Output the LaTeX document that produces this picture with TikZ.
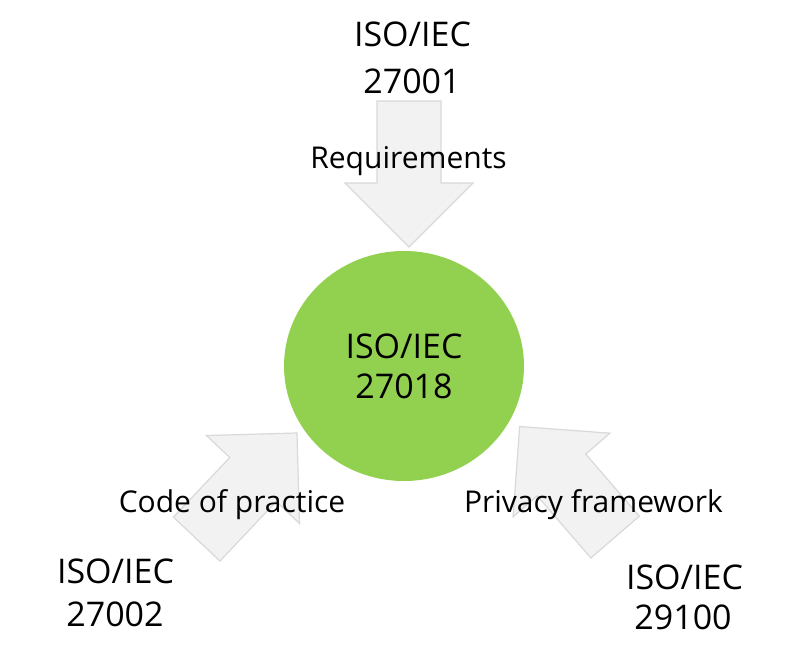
\documentclass[tikz,border=0pt]{standalone}
\usepackage{fontspec}
\setmainfont{Open Sans}
\usetikzlibrary{shapes.geometric}
\definecolor{arrowfill}{HTML}{F2F2F2}
\definecolor{arrowline}{HTML}{D9D9D9}
\definecolor{hubgreen}{HTML}{92D050}
\tikzset{
  arrowbody/.style={fill=arrowfill, draw=arrowline, line width=1.2pt, line join=miter},
  blockarrow/.pic={\draw[arrowbody] (-82,-32) -- (0,-32) -- (0,-64) -- (64,0) -- (0,64) -- (0,32) -- (-82,32) -- cycle;},
  isotext/.style={font=\fontsize{34}{40}\selectfont, anchor=base, inner sep=0pt, text=black},
  labeltext/.style={font=\fontsize{30}{36}\selectfont, anchor=base, inner sep=0pt, text=black},
  hub/.style={ellipse, fill=hubgreen, draw=none, minimum width=240pt, minimum height=230pt, inner sep=0pt},
}
\begin{document}
\begin{tikzpicture}[x=1pt,y=1pt]
\useasboundingbox (0,0) rectangle (800,658);
\fill[white] (0,0) rectangle (800,658);
% block arrows
\path (409,475) pic[rotate=-90] {blockarrow};
\path (253,178.5) pic[rotate=46.6] {blockarrow};
\path (561.5,183) pic[rotate=130.8] {blockarrow};
% hub
\node[hub] (hub) at (404,292) {};
\node[isotext] (hubA) at (404,299.7) {ISO/IEC};
\node[isotext] (hubB) at (404,259.7) {27018};
% top source
\node[isotext] (topA) at (412.5,611.3) {ISO/IEC};
\node[isotext] (topB) at (412,564.7) {27001};
\node[labeltext] (topL) at (408.5,489) {Requirements};
% bottom-left source
\node[isotext] (leftA) at (115.5,74) {ISO/IEC};
\node[isotext] (leftB) at (115,31.3) {27002};
\node[labeltext] (leftL) at (232,145) {Code of practice};
% bottom-right source
\node[isotext] (rightA) at (684.5,68) {ISO/IEC};
\node[isotext] (rightB) at (683,28) {29100};
\node[labeltext] (rightL) at (593.5,145.3) {Privacy framework};
\end{tikzpicture}
\end{document}
